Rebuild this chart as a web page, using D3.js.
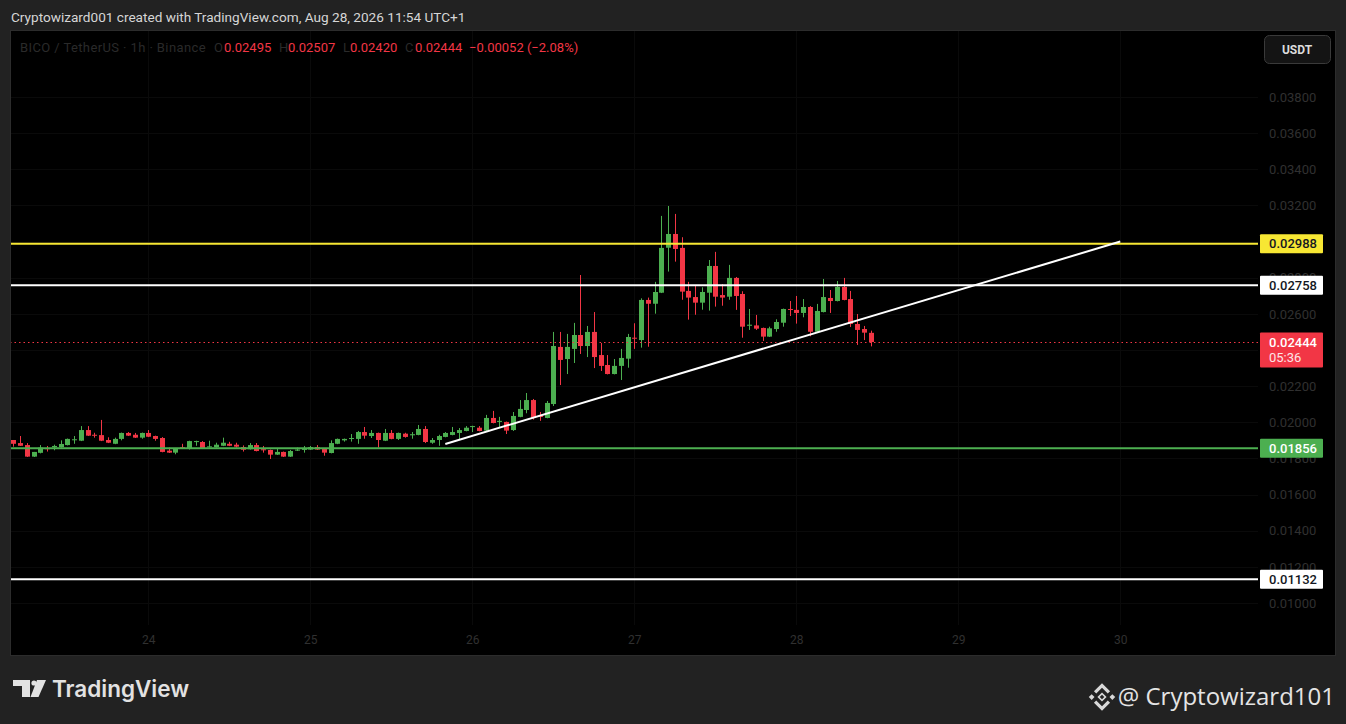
<!DOCTYPE html>
<html>
<head>
<meta charset="utf-8">
<title>BICO / TetherUS 1h</title>
<style>
  html, body { margin: 0; padding: 0; background: #222; overflow: hidden; }
  svg { display: block; font-family: Roboto, "Noto Sans", sans-serif; }
  .pre { white-space: pre; }
</style>
<script src="https://d3js.org/d3.v7.min.js"></script>
</head>
<body>
<div id="chart"></div>
<script>

// first bar: Aug 23 04:00 (UTC+1 wall clock, stored as UTC)
var startTime = Date.UTC(2026, 7, 23, 4);

var opens = [
  0.01902, 0.01885, 0.01874, 0.01810, 0.01831, 0.01858, 0.01862, 0.01862, 0.01874, 0.01902,
  0.01898, 0.01957, 0.01931, 0.01929, 0.01902, 0.01881, 0.01908, 0.01941, 0.01931, 0.01915,
  0.01941, 0.01924, 0.01913, 0.01843, 0.01832, 0.01862, 0.01854, 0.01891, 0.01891, 0.01862,
  0.01862, 0.01870, 0.01881, 0.01876, 0.01863, 0.01851, 0.01874, 0.01851, 0.01847, 0.01821,
  0.01836, 0.01810, 0.01843, 0.01847, 0.01849, 0.01863, 0.01852, 0.01830, 0.01881, 0.01900,
  0.01908, 0.01908, 0.01946, 0.01924, 0.01941, 0.01898, 0.01941, 0.01908, 0.01937, 0.01928,
  0.01930, 0.01963, 0.01887, 0.01902, 0.01919, 0.01930, 0.01941, 0.01952, 0.01974, 0.01970,
  0.01954, 0.02024, 0.02002, 0.02002, 0.01957, 0.02030, 0.02068, 0.02123, 0.02035, 0.02024,
  0.02101, 0.02417, 0.02350, 0.02406, 0.02483, 0.02422, 0.02500, 0.02372, 0.02317, 0.02267,
  0.02312, 0.02352, 0.02468, 0.02455, 0.02677, 0.02656, 0.02717, 0.02966, 0.03042, 0.02965,
  0.02727, 0.02693, 0.02662, 0.02717, 0.02865, 0.02704, 0.02695, 0.02799, 0.02710, 0.02534,
  0.02536, 0.02522, 0.02474, 0.02516, 0.02551, 0.02627, 0.02622, 0.02605, 0.02638, 0.02501,
  0.02610, 0.02688, 0.02671, 0.02749, 0.02682, 0.02544, 0.02516, 0.02495
];
var highs = [
  0.01902, 0.01924, 0.01885, 0.01836, 0.01874, 0.01869, 0.01876, 0.01900, 0.01910, 0.01924,
  0.01979, 0.01979, 0.01942, 0.02013, 0.01917, 0.01915, 0.01943, 0.01946, 0.01941, 0.01943,
  0.01957, 0.01926, 0.01918, 0.01860, 0.01858, 0.01881, 0.01898, 0.01898, 0.01896, 0.01898,
  0.01887, 0.01915, 0.01892, 0.01887, 0.01872, 0.01885, 0.01885, 0.01869, 0.01849, 0.01854,
  0.01838, 0.01847, 0.01860, 0.01869, 0.01869, 0.01874, 0.01854, 0.01900, 0.01910, 0.01910,
  0.01935, 0.01952, 0.01974, 0.01957, 0.01943, 0.01963, 0.01957, 0.01943, 0.01942, 0.01946,
  0.01985, 0.01979, 0.01913, 0.01931, 0.01946, 0.01974, 0.01968, 0.01979, 0.01981, 0.01979,
  0.02041, 0.02063, 0.02030, 0.02004, 0.02057, 0.02123, 0.02162, 0.02129, 0.02057, 0.02118,
  0.02500, 0.02500, 0.02489, 0.02550, 0.02815, 0.02533, 0.02610, 0.02439, 0.02372, 0.02350,
  0.02406, 0.02489, 0.02548, 0.02686, 0.02690, 0.02777, 0.03142, 0.03197, 0.03153, 0.03024,
  0.02777, 0.02754, 0.02747, 0.02898, 0.02943, 0.02765, 0.02871, 0.02804, 0.02725, 0.02627,
  0.02594, 0.02524, 0.02529, 0.02570, 0.02629, 0.02671, 0.02699, 0.02682, 0.02643, 0.02655,
  0.02793, 0.02732, 0.02782, 0.02799, 0.02727, 0.02599, 0.02533, 0.02507
];
var lows = [
  0.01865, 0.01869, 0.01808, 0.01808, 0.01828, 0.01838, 0.01845, 0.01860, 0.01872, 0.01881,
  0.01896, 0.01924, 0.01915, 0.01896, 0.01885, 0.01879, 0.01900, 0.01924, 0.01913, 0.01909,
  0.01918, 0.01898, 0.01834, 0.01830, 0.01823, 0.01852, 0.01849, 0.01870, 0.01852, 0.01860,
  0.01860, 0.01868, 0.01868, 0.01860, 0.01838, 0.01849, 0.01839, 0.01832, 0.01797, 0.01819,
  0.01808, 0.01808, 0.01841, 0.01832, 0.01847, 0.01847, 0.01815, 0.01828, 0.01879, 0.01893,
  0.01893, 0.01881, 0.01909, 0.01913, 0.01860, 0.01896, 0.01906, 0.01902, 0.01915, 0.01909,
  0.01928, 0.01885, 0.01881, 0.01870, 0.01917, 0.01928, 0.01902, 0.01950, 0.01946, 0.01950,
  0.01952, 0.01994, 0.01974, 0.01935, 0.01952, 0.02028, 0.02050, 0.02015, 0.02008, 0.02022,
  0.02090, 0.02206, 0.02267, 0.02328, 0.02378, 0.02361, 0.02300, 0.02284, 0.02265, 0.02265,
  0.02234, 0.02302, 0.02406, 0.02413, 0.02418, 0.02601, 0.02715, 0.02834, 0.02889, 0.02678,
  0.02568, 0.02595, 0.02623, 0.02618, 0.02640, 0.02645, 0.02678, 0.02622, 0.02468, 0.02511,
  0.02511, 0.02450, 0.02472, 0.02501, 0.02529, 0.02588, 0.02546, 0.02581, 0.02476, 0.02499,
  0.02608, 0.02605, 0.02669, 0.02675, 0.02527, 0.02428, 0.02455, 0.02420
];
var closes = [
  0.01881, 0.01870, 0.01810, 0.01836, 0.01860, 0.01851, 0.01869, 0.01880, 0.01908, 0.01906,
  0.01957, 0.01926, 0.01926, 0.01898, 0.01887, 0.01908, 0.01941, 0.01926, 0.01915, 0.01941,
  0.01920, 0.01908, 0.01836, 0.01832, 0.01856, 0.01854, 0.01896, 0.01896, 0.01854, 0.01867,
  0.01876, 0.01887, 0.01870, 0.01865, 0.01848, 0.01874, 0.01841, 0.01845, 0.01821, 0.01836,
  0.01810, 0.01841, 0.01849, 0.01858, 0.01863, 0.01849, 0.01832, 0.01885, 0.01908, 0.01908,
  0.01913, 0.01946, 0.01926, 0.01941, 0.01902, 0.01941, 0.01908, 0.01941, 0.01919, 0.01934,
  0.01963, 0.01891, 0.01902, 0.01924, 0.01941, 0.01946, 0.01957, 0.01970, 0.01979, 0.01952,
  0.02024, 0.01996, 0.02008, 0.01954, 0.02035, 0.02074, 0.02123, 0.02024, 0.02030, 0.02107,
  0.02422, 0.02345, 0.02417, 0.02483, 0.02422, 0.02500, 0.02361, 0.02312, 0.02267, 0.02312,
  0.02356, 0.02472, 0.02463, 0.02677, 0.02656, 0.02721, 0.02965, 0.03042, 0.02959, 0.02723,
  0.02690, 0.02662, 0.02721, 0.02865, 0.02695, 0.02690, 0.02799, 0.02699, 0.02529, 0.02540,
  0.02518, 0.02474, 0.02520, 0.02555, 0.02627, 0.02622, 0.02605, 0.02638, 0.02501, 0.02616,
  0.02693, 0.02671, 0.02749, 0.02677, 0.02544, 0.02511, 0.02496, 0.02444
];

var priceTicks = [0.010, 0.012, 0.014, 0.016, 0.018, 0.020, 0.022, 0.024,
                  0.026, 0.028, 0.030, 0.032, 0.034, 0.036, 0.038];
var dayTicks = [24, 25, 26, 27, 28, 29, 30];

// horizontal levels drawn on the chart
var levelPrices = [0.02988, 0.02758, 0.01856, 0.01132];
var levelLine = ["#f7e733", "#ffffff", "#4caf50", "#ffffff"];
var levelText = ["#131722", "#131722", "#ffffff", "#131722"];

// trend line: [hours from first bar, price]
var trendHours = [64, 164];
var trendPrices = [0.01880, 0.03000];

var countdown = "05:36";
var symbolText = "BICO / TetherUS \u00b7 1h \u00b7 Binance";

var W = 1346, H = 724;
var green = "#4caf50", red = "#f23645";
var plotLeft = 10, plotRight = 1258, plotTop = 31, plotBottom = 625;

var svg = d3.select("#chart").append("svg")
    .attr("width", W)
    .attr("height", H);

svg.append("rect").attr("width", W).attr("height", H).attr("fill", "#222");

// header
svg.append("text")
    .attr("x", 11).attr("y", 22)
    .attr("fill", "#d6d6d6")
    .attr("font-size", 13.6)
    .text("Cryptowizard001 created with TradingView.com, Aug 28, 2026 11:54 UTC+1");

// chart pane
svg.append("rect")
    .attr("x", 10.5).attr("y", 30.5)
    .attr("width", 1325).attr("height", 625)
    .attr("fill", "#000")
    .attr("stroke", "#2c2c2c");

var hour = 3600 * 1000;
var x = d3.scaleUtc()
    .domain([new Date(startTime), new Date(startTime + 184 * hour)])
    .range([13.3, 13.3 + 6.75 * 184]);

var y = d3.scaleLinear()
    .domain([0.010, 0.038])
    .range([603, 97]);

var bars = opens.map(function(o, i) {
    return { t: new Date(startTime + i * hour), o: o, h: highs[i], l: lows[i], c: closes[i] };
});

var dayDates = dayTicks.map(function(d) { return new Date(Date.UTC(2026, 7, d)); });

// grid
var grid = svg.append("g");
grid.selectAll("line.h").data(priceTicks).enter().append("line")
    .attr("x1", plotLeft + 1).attr("x2", plotRight)
    .attr("y1", function(d) { return Math.round(y(d)) + 0.5; })
    .attr("y2", function(d) { return Math.round(y(d)) + 0.5; })
    .attr("stroke", "#0a0a0a");
grid.selectAll("line.v").data(dayDates).enter().append("line")
    .attr("x1", function(d) { return Math.round(x(d)) + 0.5; })
    .attr("x2", function(d) { return Math.round(x(d)) + 0.5; })
    .attr("y1", plotTop).attr("y2", plotBottom)
    .attr("stroke", "#0a0a0a");

// axes
var yAxis = d3.axisRight(y)
    .tickValues(priceTicks)
    .tickSize(0)
    .tickPadding(7)
    .tickFormat(d3.format(".5f"));
var gy = svg.append("g")
    .attr("transform", "translate(1262,0)")
    .call(yAxis);
gy.select(".domain").remove();
gy.selectAll("text")
    .attr("fill", "#303030")
    .attr("font-size", 13)
    .attr("font-family", "Roboto, sans-serif");

var xAxis = d3.axisBottom(x)
    .tickValues(dayDates)
    .tickSize(0)
    .tickPadding(0)
    .tickFormat(d3.utcFormat("%-d"));
var gx = svg.append("g")
    .attr("transform", "translate(0,635)")
    .call(xAxis);
gx.select(".domain").remove();
gx.selectAll("text")
    .attr("fill", "#303030")
    .attr("font-size", 12)
    .attr("font-family", "Roboto, sans-serif");

// clip for the plot
svg.append("clipPath").attr("id", "plotclip")
    .append("rect")
    .attr("x", plotLeft + 1).attr("y", plotTop)
    .attr("width", plotRight - plotLeft).attr("height", plotBottom - plotTop);

var plot = svg.append("g").attr("clip-path", "url(#plotclip)");

// candles
var candle = plot.selectAll("g.candle")
    .data(bars)
    .enter().append("g")
    .attr("class", "candle");

candle.append("line")
    .attr("x1", function(d) { return Math.round(x(d.t)) + 0.5; })
    .attr("x2", function(d) { return Math.round(x(d.t)) + 0.5; })
    .attr("y1", function(d) { return y(d.h); })
    .attr("y2", function(d) { return y(d.l); })
    .attr("stroke", function(d) { return d.c >= d.o ? green : red; })
    .attr("stroke-width", 1);

candle.append("rect")
    .attr("x", function(d) { return Math.round(x(d.t)) - 2; })
    .attr("width", 5)
    .attr("y", function(d) { return y(Math.max(d.o, d.c)); })
    .attr("height", function(d) { return Math.max(1, Math.abs(y(d.o) - y(d.c))); })
    .attr("fill", function(d) { return d.c >= d.o ? green : red; });

// horizontal levels
plot.selectAll("line.level")
    .data(levelPrices)
    .enter().append("line")
    .attr("class", "level")
    .attr("x1", plotLeft).attr("x2", plotRight)
    .attr("y1", function(d) { return y(d); })
    .attr("y2", function(d) { return y(d); })
    .attr("stroke", function(d, i) { return levelLine[i]; })
    .attr("stroke-width", 2);

// last price dotted line
var last = bars[bars.length - 1];
plot.append("line")
    .attr("x1", plotLeft).attr("x2", plotRight)
    .attr("y1", Math.round(y(last.c)) + 0.5)
    .attr("y2", Math.round(y(last.c)) + 0.5)
    .attr("stroke", red)
    .attr("stroke-width", 1)
    .attr("stroke-dasharray", "1.5,3");

// trend line
var trendLine = d3.line()
    .x(function(d) { return x(new Date(startTime + d[0] * hour)); })
    .y(function(d) { return y(d[1]); });
plot.append("path")
    .datum(trendHours.map(function(h, i) { return [h, trendPrices[i]]; }))
    .attr("d", trendLine)
    .attr("fill", "none")
    .attr("stroke", "#ffffff")
    .attr("stroke-width", 2);

// price labels on the axis
var fmt = d3.format(".5f");
var labels = svg.selectAll("g.plabel")
    .data(levelPrices)
    .enter().append("g")
    .attr("class", "plabel")
    .attr("transform", function(d) { return "translate(1260," + y(d) + ")"; });
labels.append("rect")
    .attr("x", 0).attr("y", -9.5)
    .attr("width", 63).attr("height", 19)
    .attr("rx", 1)
    .attr("fill", function(d, i) { return levelLine[i]; });
labels.append("text")
    .attr("x", 9).attr("y", 0)
    .attr("dy", "0.36em")
    .attr("font-size", 13)
    .attr("font-weight", 500)
    .attr("fill", function(d, i) { return levelText[i]; })
    .text(function(d) { return fmt(d); });

var lastLabel = svg.append("g")
    .attr("transform", "translate(1260," + y(last.c) + ")");
lastLabel.append("rect")
    .attr("x", 0).attr("y", -9.5)
    .attr("width", 63).attr("height", 35)
    .attr("rx", 1)
    .attr("fill", red);
lastLabel.append("text")
    .attr("x", 9).attr("y", 0).attr("dy", "0.36em")
    .attr("font-size", 13).attr("font-weight", 500).attr("fill", "#fff")
    .text(fmt(last.c));
lastLabel.append("text")
    .attr("x", 9).attr("y", 15).attr("dy", "0.36em")
    .attr("font-size", 13).attr("fill", "#fde4e6")
    .text(countdown);

// currency button
svg.append("rect")
    .attr("x", 1264.5).attr("y", 35.5)
    .attr("width", 66).attr("height", 28)
    .attr("rx", 5)
    .attr("fill", "#141414")
    .attr("stroke", "#3a3a3a");
svg.append("text")
    .attr("x", 1297).attr("y", 49.5)
    .attr("dy", "0.36em")
    .attr("text-anchor", "middle")
    .attr("font-size", 12)
    .attr("font-weight", "bold")
    .attr("fill", "#dcdcdc")
    .text("USDT");

// legend
var prev = bars[bars.length - 2];
var chg = last.c - prev.c;
var dim = "#2a2a2a";
var legendParts = [
    [symbolText, dim, 20],
    ["O", dim, 214], [fmt(last.o), red, 224],
    ["H", dim, 279], [fmt(last.h), red, 288],
    ["L", dim, 343], [fmt(last.l), red, 350],
    ["C", dim, 405], [fmt(last.c), red, 415],
    [d3.format("+.5f")(chg).replace("+", "") + " (" + d3.format(".2f")(chg / prev.c * 100) + "%)", red, 469]
];
var legend = svg.append("text")
    .attr("class", "pre")
    .attr("y", 52)
    .attr("font-size", 13);
legend.selectAll("tspan")
    .data(legendParts)
    .enter().append("tspan")
    .attr("x", function(d) { return d[2]; })
    .attr("letter-spacing", function(d, i) { return i === 0 ? 0.4 : 0; })
    .attr("fill", function(d) { return d[1]; })
    .text(function(d) { return d[0]; });

// footer: TradingView logo
var logo = svg.append("g").attr("fill", "#e2e2e2");
logo.append("path").attr("d", "M13,680 H30 V697 H22 V686 H13 Z");
logo.append("circle").attr("cx", 34).attr("cy", 683).attr("r", 2.6);
logo.append("path").attr("d", "M37,680 H46 L38.5,697 H30.5 Z");
svg.append("text")
    .attr("x", 52).attr("y", 697)
    .attr("font-size", 22.5)
    .attr("font-weight", 600)
    .attr("font-family", "Inter, Roboto, sans-serif")
    .attr("fill", "#e2e2e2")
    .text("TradingView");

// footer: author with Binance mark
var bn = svg.append("g").attr("fill", "#d8d8d8")
    .attr("transform", "translate(1102,697) scale(1.15)");
bn.append("path").attr("d", "M0,-4 L4,0 L0,4 L-4,0 Z M0,-2 L-2,0 L0,2 L2,0 Z").attr("fill-rule", "evenodd");
bn.append("path").attr("d", "M-9,-2.5 L-6.5,0 L-9,2.5 L-11.5,0 Z");
bn.append("path").attr("d", "M9,-2.5 L11.5,0 L9,2.5 L6.5,0 Z");
bn.append("path").attr("d", "M0,-12 L7,-5 L5,-3 L0,-8 L-5,-3 L-7,-5 Z");
bn.append("path").attr("d", "M0,12 L7,5 L5,3 L0,8 L-5,3 L-7,5 Z");
svg.append("text")
    .attr("x", 1335).attr("y", 705)
    .attr("text-anchor", "end")
    .attr("font-size", 24)
    .attr("font-family", "'Open Sans', sans-serif")
    .attr("fill", "#e4e4e4")
    .text("@ Cryptowizard101");

</script>
</body>
</html>
